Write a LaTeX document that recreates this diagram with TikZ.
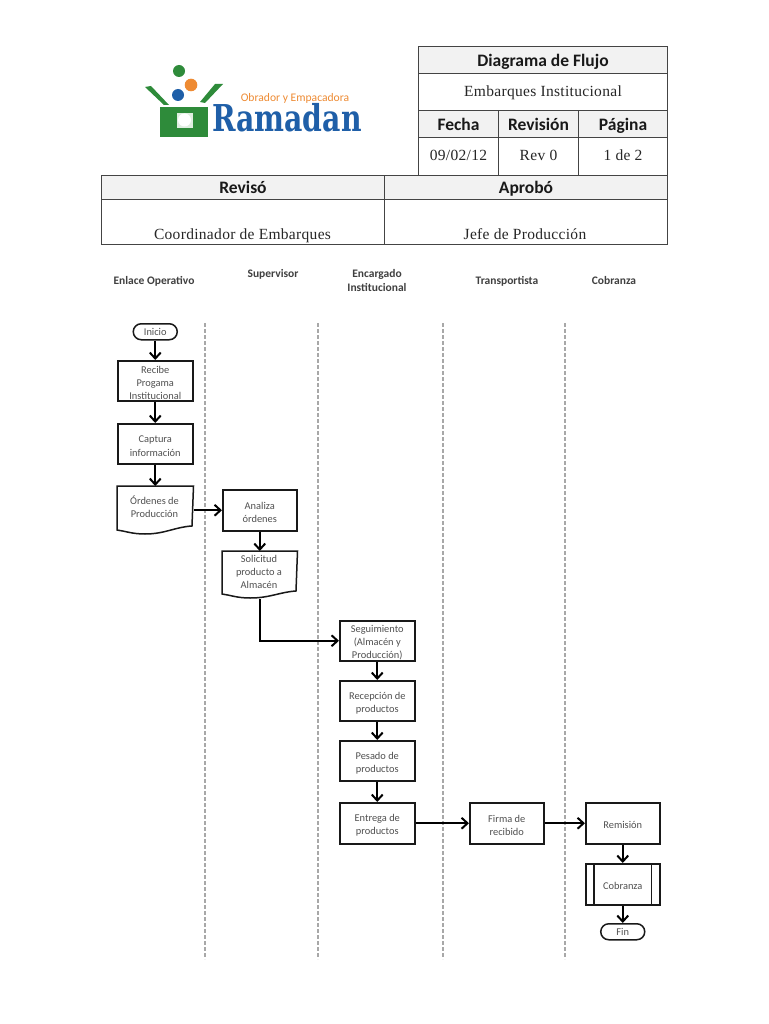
\documentclass[tikz,border=0pt]{standalone}
\usepackage{fontspec}
\setmainfont{Carlito}
\newfontfamily\serifcell[LetterSpace=2]{Liberation Serif}
\newfontfamily\logofont{DejaVu Serif}
\usetikzlibrary{arrows.meta}
\definecolor{cellgray}{HTML}{F2F2F2}
\definecolor{rulec}{HTML}{444444}
\definecolor{txt}{HTML}{505050}
\definecolor{lanec}{HTML}{A8A8A8}
\definecolor{lgreen}{HTML}{2E8B3A}
\definecolor{lblue}{HTML}{1F5FA8}
\definecolor{lorange}{HTML}{EE8B33}
\newcommand{\dn}{\rule{0pt}{11.5pt}}
\tikzset{
  x=1pt,y=-1pt,
  cell/.style={draw=rulec,line width=1pt,inner sep=0pt,anchor=north west,minimum width=#1},
  headcell/.style={fill=cellgray,font=\fontsize{17.5}{19}\selectfont\bfseries,text=black!90,text height=16pt,text depth=3pt},
  bodycell/.style={font=\serifcell\fontsize{15.5}{17}\selectfont,text=black!85,text height=12pt,text depth=3pt},
  flow/.style={draw=black!90,line width=1.5pt,inner sep=0pt,anchor=north west,align=center,
    font=\fontsize{10.4}{13.2}\selectfont,text=txt},
  ghost/.style={flow,draw=none},
  term/.style={flow,rounded corners=8pt},
  docbody/.style={flow,draw=none,anchor=center},
  link/.style={draw=black,line width=2pt,-{Straight Barb[length=6pt,width=11pt,line width=2pt]}},
  lanehead/.style={align=center,font=\fontsize{11.5}{14}\selectfont\bfseries,text=black!75,inner sep=0pt},
  laneline/.style={draw=lanec,line width=1.2pt,dash pattern=on 4pt off 2pt},
  docline/.style={draw=black!90,line width=1.5pt,line join=miter},
  sz/.style 2 args={minimum width=#1pt,minimum height=#2pt},
}
\begin{document}
\begin{tikzpicture}
\useasboundingbox (0,0) rectangle (768,1024);
\fill[white] (0,0) rectangle (768,1024);

% logo
\fill[lgreen] (179,71) circle (6);
\fill[lorange] (191,85) circle (6.3);
\fill[lblue] (178,95) circle (6);
\fill[lgreen] (145,87) -- (151,86) -- (169,105) -- (164,105) -- cycle;
\fill[lgreen] (223,84) -- (215,84) -- (200,102) -- (205,103) -- cycle;
\fill[lgreen] (160,107) rectangle (208,137);
\fill[white!85!lgreen] (177,113) rectangle (193,128);
\fill[white] (184.5,120) circle (6.5);
\node[inner sep=0pt,text=lorange,font=\fontsize{11.6}{13}\selectfont,text height=7pt,text depth=1pt] (logotop) at (295,99) {Obrador y Empacadora};
\node[inner sep=0pt,text=lblue,font=\logofont\fontsize{37}{39}\selectfont\bfseries,anchor=base west,xscale=.765] (logoname) at (212,132) {Ramadan};

% header table
\node[cell=249pt,headcell,minimum height=27pt] (title) at (418,46) {Diagrama de Flujo};
\node[cell=249pt,bodycell,minimum height=37pt] (sub) at (418,73) {Embarques Institucional};
\node[cell=80pt,headcell,minimum height=27pt] (hfecha) at (418,110) {Fecha};
\node[cell=80pt,headcell,minimum height=27pt] (hrev) at (498,110) {Revisión};
\node[cell=89pt,headcell,minimum height=27pt] (hpag) at (578,110) {Página};
\node[cell=80pt,bodycell,minimum height=38pt] (vfecha) at (418,137) {09/02/12};
\node[cell=80pt,bodycell,minimum height=38pt] (vrev) at (498,137) {Rev 0};
\node[cell=89pt,bodycell,minimum height=38pt] (vpag) at (578,137) {1 de 2};
\node[cell=283pt,headcell,minimum height=24pt] (hrevi) at (101,175) {Revisó};
\node[cell=283pt,headcell,minimum height=24pt] (hapro) at (384,175) {Aprobó};
\node[cell=283pt,minimum height=45pt] (vrevi) at (101,199) {};
\node[cell=283pt,minimum height=45pt] (vapro) at (384,199) {};
\node[bodycell,inner sep=0pt] (trevi) at (242.5,235) {Coordinador de Embarques};
\node[bodycell,inner sep=0pt] (tapro) at (525,235) {Jefe de Producción};

% lane headers
\node[lanehead] (l1) at (154,281) {Enlace Operativo};
\node[lanehead] (l2) at (273,274.5) {Supervisor};
\node[lanehead] (l3) at (377,281) {Encargado\\Institucional};
\node[lanehead] (l4) at (507,281) {Transportista};
\node[lanehead] (l5) at (614,281) {Cobranza};

% lane separators
\draw[laneline] (205,323) -- (205,959);
\draw[laneline] (318,323) -- (318,959);
\draw[laneline] (443,323) -- (443,959);
\draw[laneline] (565,323) -- (565,959);

% boxes
\node[term,sz={44}{16}] (inicio) at (132.5,323) {Inicio};
\node[flow,sz={75}{40}] (recibe) at (117,360) {\dn Recibe\\Progama\\Institucional};
\node[flow,sz={75}{40}] (captura) at (117,423) {\dn Captura\\información};
\node[ghost,sz={75}{48}] (ordenes) at (117,486) {};
\node[docbody] (ordtxt) at (154.5,507) {Órdenes de\\Producción};
\draw[docline] (ordenes.north west) -- (ordenes.north east) -- (192,526)
  .. controls (175,527) and (165,534) .. (145,534)
  .. controls (132,534) and (125,531) .. (117,530) -- cycle;
\node[flow,sz={74}{41}] (analiza) at (222,489) {\dn Analiza\\órdenes};
\node[ghost,sz={74}{46}] (solicitud) at (222,551) {};
\node[docbody] (soltxt) at (259,572) {Solicitud\\producto a\\Almacén};
\draw[docline] (solicitud.north west) -- (solicitud.north east) -- (296,591)
  .. controls (280,592) and (270,598) .. (250,598)
  .. controls (237,598) and (230,595) .. (222,594) -- cycle;
\node[flow,sz={75}{40}] (seg) at (339,620) {\dn Seguimiento\\(Almacén y\\Producción)};
\node[flow,sz={75}{40}] (recep) at (339,680) {\dn Recepción de\\productos};
\node[flow,sz={75}{40}] (pesado) at (339,740) {\dn Pesado de\\productos};
\node[flow,sz={75}{41}] (entrega) at (339,802) {\dn Entrega de\\productos};
\node[flow,sz={74}{41}] (firma) at (469,802) {\dn Firma de\\recibido};
\node[flow,sz={74}{41}] (remision) at (585,802) {\dn Remisión};
\node[flow,sz={74}{41}] (cobranza) at (585,863) {\dn Cobranza};
\draw[docline] ([xshift=9pt]cobranza.north west) -- ([xshift=9pt]cobranza.south west);
\draw[docline] ([xshift=-9pt]cobranza.north east) -- ([xshift=-9pt]cobranza.south east);
\node[term,sz={44}{16}] (fin) at (600,923) {Fin};

% connectors
\draw[link] (inicio) -- (recibe);
\draw[link] (recibe) -- (captura);
\draw[link] (captura) -- (ordenes);
\draw[link] (analiza.west -| ordenes.east) -- (analiza.west);
\draw[link] (analiza) -- (solicitud);
\draw[link] (solicitud.south) |- (seg.west);
\draw[link] (seg) -- (recep);
\draw[link] (recep) -- (pesado);
\draw[link] (pesado) -- (entrega);
\draw[link] (entrega) -- (firma);
\draw[link] (firma) -- (remision);
\draw[link] (remision) -- (cobranza);
\draw[link] (cobranza) -- (fin);
\end{tikzpicture}
\end{document}
